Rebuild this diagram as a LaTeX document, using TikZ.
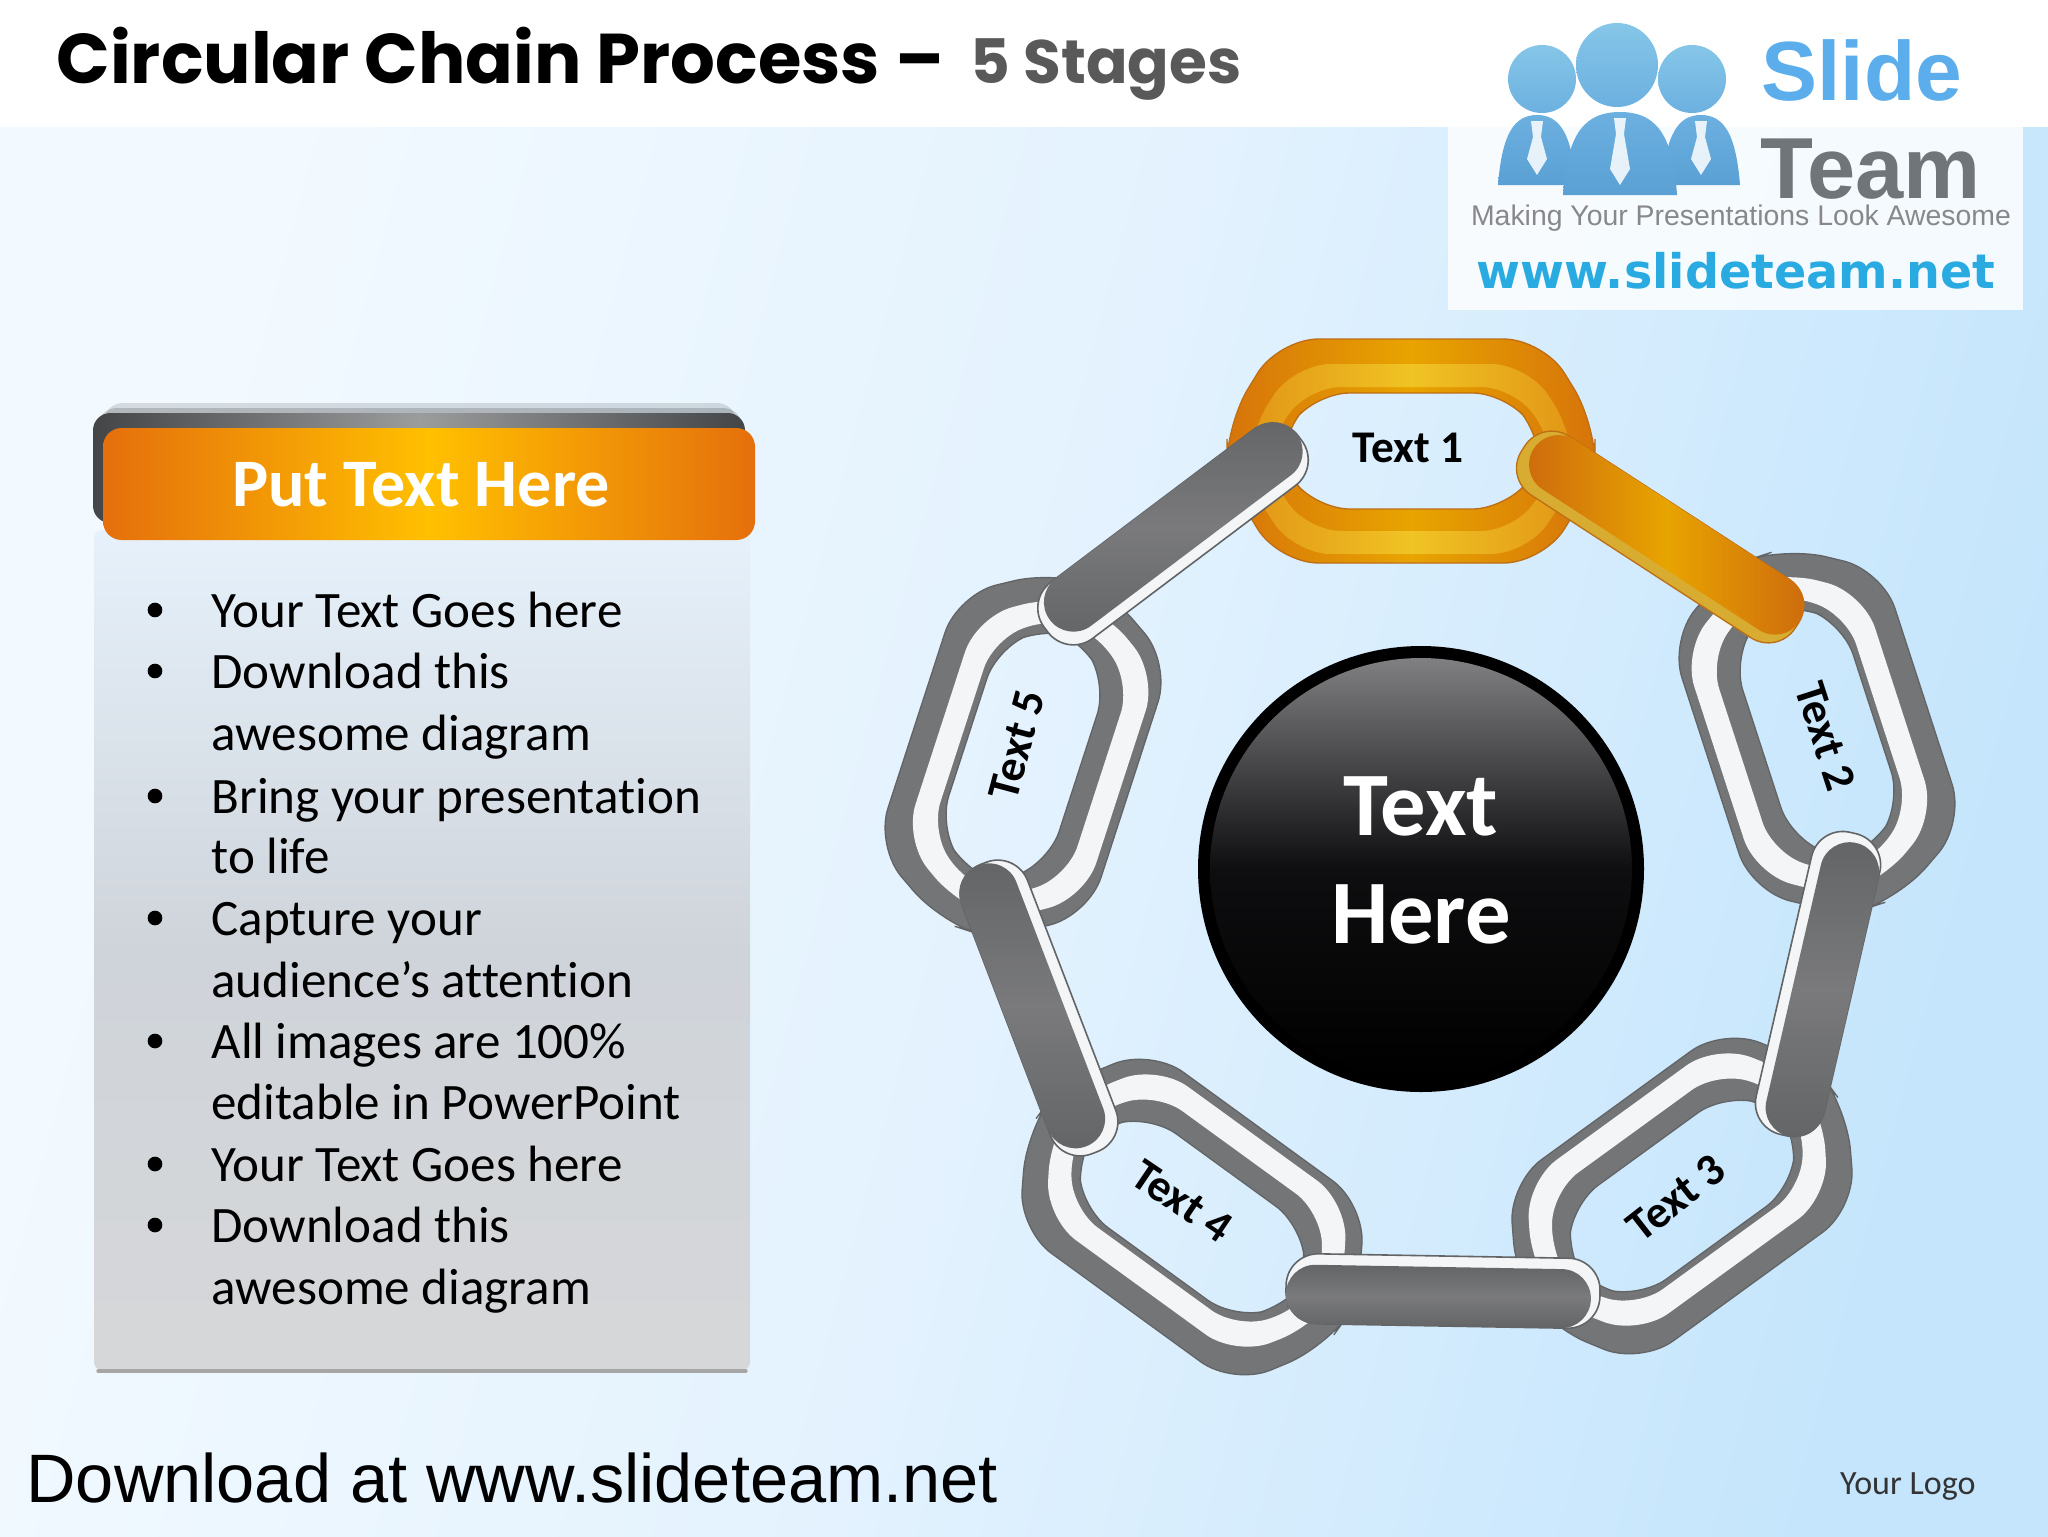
\documentclass[tikz,border=0pt]{standalone}
\usepackage{fontspec}
\setmainfont{Carlito}[Ligatures=NoCommon]
\newfontfamily\titlefont{Poppins}
\newfontfamily\arialfont{Liberation Sans}
\newfontfamily\urlfont{DejaVu Sans}
\usetikzlibrary{positioning}

\definecolor{chaingrey}{RGB}{116,117,119}
\definecolor{chainedge}{RGB}{98,100,102}
\definecolor{chainmid}{RGB}{122,122,124}
\definecolor{chainwhite}{RGB}{243,245,247}
\definecolor{orangedeep}{RGB}{214,116,10}
\definecolor{orangemid}{RGB}{232,164,0}
\definecolor{orangeline}{RGB}{190,110,20}
\definecolor{bandside}{RGB}{226,150,22}
\definecolor{bandmid}{RGB}{240,196,36}
\definecolor{barstrip}{RGB}{216,172,48}
\definecolor{barend}{RGB}{204,104,14}
\definecolor{bgleft}{RGB}{243,250,255}
\definecolor{bgmid}{RGB}{227,242,254}
\definecolor{bgright}{RGB}{196,229,252}
\definecolor{paneltop}{RGB}{230,241,251}
\definecolor{panelmid}{RGB}{207,212,218}
\definecolor{panelend}{RGB}{214,215,217}
\definecolor{headside}{RGB}{229,111,12}
\definecolor{headmid}{RGB}{255,192,0}
\definecolor{darkside}{RGB}{68,69,71}
\definecolor{darkmid}{RGB}{155,156,156}
\definecolor{disctop}{RGB}{128,128,130}
\definecolor{discmid}{RGB}{14,14,16}
\definecolor{logoblue}{RGB}{108,176,224}
\definecolor{logolight}{RGB}{133,198,232}
\definecolor{logodeep}{RGB}{90,160,212}
\definecolor{logoslidecol}{RGB}{91,174,235}
\definecolor{logoteamcol}{RGB}{112,117,122}
\definecolor{logotagcol}{RGB}{136,136,138}
\definecolor{logourlcol}{RGB}{41,171,226}

\tikzset{every picture/.style={line width=0.75pt}}
\tikzset{
  greyring/.style={fill=chaingrey,draw=chainedge,line width=1pt,even odd rule},
  greyband/.style={fill=chainwhite,even odd rule},
  orangering/.style={left color=orangedeep,right color=orangedeep,middle color=orangemid,draw=orangeline,line width=1pt,even odd rule},
  orangeband/.style={left color=bandside,right color=bandside,middle color=bandmid,even odd rule},
  greyback/.style={fill=chainwhite,draw=chainedge,line width=1.2pt},
  greybar/.style={top color=chainedge,bottom color=chainedge,middle color=chainmid},
  orangeback/.style={fill=barstrip,draw=orangeline,line width=1pt},
  orangebar/.style={left color=barend,right color=barend,middle color=orangemid},
  linktext/.style={font=\bfseries\fontsize{34}{34}\selectfont,inner sep=0.75pt},
  listtext/.style={anchor=base west,font=\fontsize{38.3}{38.3}\selectfont,inner sep=0.75pt},
  listdot/.style={circle,fill=black,inner sep=0pt,minimum size=11pt},
  logohead/.style={top color=logolight,bottom color=logoblue},
  logobody/.style={top color=logoblue,bottom color=logodeep},
  logotie/.style={fill=white,fill opacity=0.85},
}

% ring outline: half length, half height, rounding
\newcommand{\ringpath}[3]{[rounded corners=#3] (0,-#2) -- ({0.72*#1},-#2) -- (#1,{-0.25*#2}) -- (#1,{0.25*#2}) -- ({0.72*#1},#2) -- ({-0.72*#1},#2) -- (-#1,{0.25*#2}) -- (-#1,{-0.25*#2}) -- ({-0.72*#1},-#2) -- cycle}
% one link of the chain: x, y, angle, ring style, band style
\newcommand{\chainlink}[5]{
\begin{scope}[shift={(#1,#2)},rotate=#3]
\path [#4] \ringpath{184}{112}{30pt} \ringpath{130}{58}{24pt};
\begin{scope}[yshift=6pt]
\path [#5] \ringpath{163}{95}{28pt} \ringpath{142}{72}{24pt};
\end{scope}
\end{scope}
}
% one bar between two links: x, y, angle, half length, back style, bar style
\newcommand{\chainbar}[6]{
\begin{scope}[shift={(#1,#2)},rotate=#3]
\path [#5,rounded corners=24pt] (-#4,-35) rectangle (#4,35);
\path [#6,rounded corners=22pt] ({-#4+9},-35) rectangle (#4,24);
\end{scope}
}

\begin{document}
\begin{tikzpicture}[x=0.75pt,y=0.75pt,yscale=-1,xscale=1]
\useasboundingbox (0,0) rectangle (2048,1536);

%Background
\fill [white] (0,0) rectangle (2048,1536);
\shade [left color=bgleft,right color=bgright,middle color=bgmid,shading angle=75] (0,127) rectangle (2048,1536);

%Logo box
\fill [white,fill opacity=0.8] (1448,127) rectangle (2023,310);

%Logo heads
\path [logohead] (1542,79) ellipse [x radius=34,y radius=34];
\path [logohead] (1692,79) ellipse [x radius=34,y radius=34];
\path [logohead] (1617,65) ellipse [x radius=41,y radius=42];
%Logo bodies
\foreach \cx/\hw/\tp/\bt in {1537/39/115/185,1701/39/115/185,1620/57/112/195}{
  \path [logobody] (\cx-\hw,\bt) .. controls (\cx-\hw+4,\tp+20) and (\cx-\hw*0.6,\tp) .. (\cx,\tp) .. controls (\cx+\hw*0.6,\tp) and (\cx+\hw-4,\tp+20) .. (\cx+\hw,\bt) -- cycle;
  \path [logotie] (\cx-6,\tp+6) -- (\cx+6,\tp+6) -- (\cx+4,\tp+22) -- (\cx+10,\bt-26) -- (\cx,\bt-10) -- (\cx-10,\bt-26) -- (\cx-4,\tp+22) -- cycle;
}

% Text Node
\node (logoslide) [anchor=west,inner sep=0pt,text=logoslidecol,font=\arialfont\bfseries\fontsize{63}{63}\selectfont] at (1761,70) {Slide};
\node (logoteam) [anchor=west,inner sep=0pt,text=logoteamcol,font=\arialfont\bfseries\fontsize{65}{65}\selectfont] at (1760,169) {Team};
\node (logotag) [anchor=center,inner sep=0pt,text=logotagcol,font=\arialfont\fontsize{21.3}{21.3}\selectfont] at (1741,218) {Making Your Presentations Look Awesome};
\node (logourl) [anchor=center,inner sep=0pt,text=logourlcol,font=\urlfont\bfseries\fontsize{35.7}{35.7}\selectfont] at (1736,271) {www.slideteam.net};

% Text Node
\node (title) [anchor=base west,inner sep=0pt,font=\titlefont\bfseries\fontsize{52.8}{52.8}\selectfont] at (56,83) {Circular Chain Process –};
\node (titlegrey) [anchor=base west,inner sep=0pt,text=black!65,font=\titlefont\bfseries\fontsize{46}{46}\selectfont] at (970,83) {5 Stages};

%Panel
\shade [top color=paneltop,bottom color=panelend,middle color=panelmid,rounded corners=6pt] (94,530) rectangle (750,1370);
\draw [black!35,line width=2.5pt,line cap=round] (98,1371) -- (746,1371);
%Header
\fill [black,opacity=0.12,rounded corners=14pt] (104,403) rectangle (736,520);
\fill [black,opacity=0.16,rounded corners=14pt] (98,408) rectangle (742,520);
\shade [left color=darkside,right color=darkside,middle color=darkmid,rounded corners=13pt] (93,413) rectangle (745,523);
\shade [left color=headside,right color=headside,middle color=headmid,rounded corners=14pt] (103,428) rectangle (755,540);

% Text Node
\node (header) [text=white,font=\bfseries\fontsize{51}{51}\selectfont,inner sep=0pt] at (421,485) {Put Text Here};

%Bullets
\foreach \yy in {610,671,796,918,1041,1164,1225}{
  \node (dot\yy) [listdot] at (155,\yy) {};
}
%List lines
\foreach \yy/\txt in {610/Your Text Goes here,671/Download this,733/awesome diagram,796/Bring your presentation,856/to life,918/Capture your,980/audience’s attention,1041/All images are 100\%,1102/editable in PowerPoint,1164/Your Text Goes here,1225/Download this,1287/awesome diagram}{
  \node (line\yy) [listtext] at (210,\yy+17) {\txt};
}

%Links
\chainlink{1817}{731}{72}{greyring}{greyband}
\chainlink{1682}{1196}{144}{greyring}{greyband}
\chainlink{1192}{1217}{216}{greyring}{greyband}
\chainlink{1023}{755}{288}{greyring}{greyband}
\chainlink{1411}{451}{0}{orangering}{orangeband}

%Bars
\chainbar{1173}{534}{323}{159}{greyback}{greybar}
\chainbar{1660}{537}{33}{163}{orangeback}{orangebar}
\chainbar{1818}{984}{103}{155}{greyback}{greybar}
\chainbar{1443}{1291}{181}{157}{greyback}{greybar}
\chainbar{1039}{1008}{249}{155}{greyback}{greybar}

%Centre disc
\fill [black] (1421,869) circle [radius=223];
\shade [top color=disctop,bottom color=black,middle color=discmid] (1421,869) circle [radius=211];

% Text Node
\node (centre) [text=white,align=center,font=\bfseries\fontsize{68}{81}\selectfont,inner sep=0pt] at (1421,860) {Text\\Here};

% Text Node
\node (text1) [linktext] at (1408,448) {Text 1};
\node (text2) [linktext,rotate=-72] at (1826,736) {Text 2};
\node (text3) [linktext,rotate=38] at (1676,1198) {Text 3};
\node (text4) [linktext,rotate=-34] at (1182,1201) {Text 4};
\node (text5) [linktext,rotate=75] at (1017,745) {Text 5};

% Text Node
\node (footer) [anchor=base west,inner sep=0pt,font=\arialfont\fontsize{51.4}{51.4}\selectfont] at (26,1502) {Download at www.slideteam.net};
\node (yourlogo) [anchor=east,inner sep=0pt,text=black!80,font=\fontsize{25.5}{25.5}\selectfont] at (1976,1486) {Your Logo};

\end{tikzpicture}
\end{document}
